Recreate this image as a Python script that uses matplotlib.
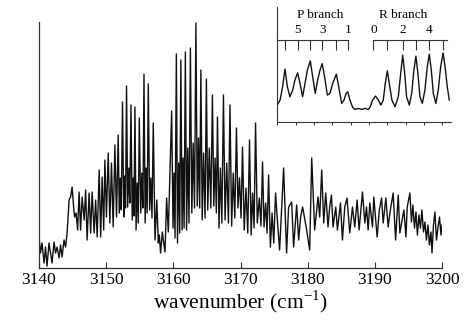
"""
IR spectrum of the CH stretch band with an inset of the band origin
(P and R branch assignments).
"""
import matplotlib
matplotlib.use("Agg")
import matplotlib.pyplot as plt

plt.rcParams["font.family"] = ["Liberation Serif", "DejaVu Serif"]

# --- main spectrum (wavenumber in cm-1, signal in arbitrary units) ---
wn_onset = [3140.00, 3140.22, 3140.45, 3140.75, 3140.97, 3141.19, 3141.49, 3141.72, 3141.94,
            3142.24, 3142.46, 3142.69, 3142.99, 3143.21, 3143.43, 3143.73, 3143.96, 3144.18]
sig_onset = [31, 15, 25, 5, 21, 2, 25, 15, 5,
             26, 15, 21, 10, 23, 11, 28, 21, 35]

wn_p = [3144.48, 3144.70, 3144.93, 3145.15, 3145.30, 3145.52, 3145.75, 3145.97, 3146.19, 3146.42,
        3146.72, 3146.94, 3147.16, 3147.46, 3147.69, 3147.91, 3148.21, 3148.43, 3148.66, 3148.96,
        3149.18, 3149.40, 3149.63, 3149.81, 3150.04, 3150.30, 3150.55, 3150.79, 3151.04, 3151.30,
        3151.54, 3151.79, 3151.95, 3152.10, 3152.25, 3152.43, 3152.62, 3152.75, 3152.88, 3153.03,
        3153.20, 3153.38, 3153.52, 3153.69, 3153.88, 3154.02, 3154.14, 3154.28, 3154.45, 3154.62,
        3154.78, 3154.93, 3155.15, 3155.32, 3155.47, 3155.63, 3155.80, 3155.95, 3156.10, 3156.27,
        3156.47, 3156.65, 3156.82, 3157.01, 3157.27]
sig_p = [68, 71, 81, 61, 51, 55, 38, 76, 38, 71,
         48, 78, 28, 75, 35, 76, 35, 68, 31, 98,
         31, 91, 38, 108, 51, 115, 45, 105, 41, 123,
         51, 133, 55, 90, 58, 166, 51, 92, 60, 182,
         61, 100, 65, 163, 48, 90, 52, 161, 38, 85,
         45, 150, 55, 95, 60, 194, 45, 100, 55, 184,
         58, 90, 50, 145, 28]

wn_gap = [3157.54, 3157.76, 3157.91, 3158.10, 3158.36, 3158.51, 3158.76, 3159.00, 3159.25]
sig_gap = [68, 25, 33, 15, 36, 28, 16, 70, 36]

wn_r = [3159.75, 3159.95, 3160.10, 3160.25, 3160.45, 3160.62, 3160.80, 3160.95, 3161.12, 3161.30,
        3161.45, 3161.60, 3161.79, 3161.97, 3162.15, 3162.33, 3162.54, 3162.75, 3162.95, 3163.15,
        3163.36, 3163.56, 3163.75, 3163.92, 3164.10, 3164.30, 3164.50, 3164.72, 3164.92, 3165.12,
        3165.35, 3165.58, 3165.82, 3166.02, 3166.22, 3166.40, 3166.57, 3166.80, 3167.00, 3167.22,
        3167.46, 3167.70, 3167.95, 3168.20, 3168.43, 3168.68, 3168.92, 3169.15, 3169.40, 3169.62,
        3169.85, 3170.08, 3170.30, 3170.55, 3170.82, 3171.08, 3171.34, 3171.58, 3171.80, 3172.02,
        3172.24, 3172.50, 3172.80, 3173.05, 3173.28, 3173.50, 3173.75, 3173.95, 3174.18, 3174.45,
        3174.70, 3174.95, 3175.22, 3175.52, 3175.82, 3176.42, 3176.86, 3177.16, 3177.61, 3177.91,
        3178.36, 3178.66, 3178.95, 3179.25, 3179.85]
sig_r = [157, 40, 95, 30, 214, 25, 105, 35, 208, 38,
         110, 40, 216, 38, 120, 45, 220, 55, 125, 60,
         245, 62, 130, 60, 198, 48, 115, 50, 189, 58,
         120, 60, 173, 62, 110, 55, 151, 40, 100, 45,
         173, 48, 105, 45, 163, 42, 95, 50, 140, 60,
         90, 50, 121, 38, 80, 35, 128, 33, 75, 40,
         145, 45, 70, 42, 106, 41, 65, 35, 93, 21,
         55, 25, 75, 45, 18, 100, 15, 61, 66, 21,
         63, 28, 51, 61, 38]

wn_tail = [3180.30, 3180.60, 3181.04, 3181.54, 3181.79, 3182.09, 3182.39, 3182.69, 3183.03, 3183.28,
           3183.54, 3183.78, 3184.18, 3184.43, 3184.88, 3185.18, 3185.52, 3185.86, 3186.27, 3186.67,
           3187.01, 3187.36, 3187.66, 3188.16, 3188.51, 3188.76, 3189.00, 3189.25, 3189.65, 3189.85,
           3190.34, 3190.67, 3191.00, 3191.24, 3191.64, 3191.98, 3192.24, 3192.73, 3193.09, 3193.48,
           3193.73, 3193.98, 3194.33, 3194.63, 3194.82, 3195.22, 3195.45, 3195.67, 3195.90, 3196.12,
           3196.34, 3196.57, 3196.79, 3197.01, 3197.24, 3197.46, 3197.68, 3197.91, 3198.13, 3198.36,
           3198.51, 3198.73, 3198.95, 3199.18, 3199.40, 3199.63, 3199.85, 3200.00]
sig_tail = [18, 110, 38, 71, 51, 98, 45, 75, 41, 61,
            73, 41, 61, 38, 65, 28, 61, 70, 35, 61,
            41, 68, 38, 76, 45, 61, 38, 65, 41, 71,
            31, 58, 70, 45, 70, 41, 55, 75, 28, 73,
            35, 45, 58, 31, 61, 75, 46, 63, 40, 56,
            33, 53, 40, 58, 36, 46, 28, 43, 23, 36,
            15, 43, 56, 28, 40, 51, 33, 43]

# --- inset: band origin region ---
inset_x = [0.00, 0.15, 0.29, 0.42, 0.55, 0.69, 0.84, 0.96, 1.11, 1.24,
           1.38, 1.51, 1.64, 1.80, 1.93, 2.07, 2.20, 2.33, 2.45, 2.58,
           2.73, 2.87, 3.02, 3.22, 3.35, 3.51, 3.64, 3.75, 3.84, 3.96,
           4.11, 4.24, 4.42, 4.60, 4.78, 4.96, 5.05, 5.20, 5.36, 5.51,
           5.65, 5.78, 5.89, 6.00, 6.11, 6.25, 6.42, 6.60, 6.73, 6.84,
           6.95, 7.05, 7.20, 7.33, 7.45, 7.56, 7.67, 7.78, 7.91, 8.05,
           8.18, 8.29, 8.40, 8.51, 8.65, 8.78, 8.91, 9.04, 9.15, 9.27, 9.38]
inset_y = [16.7, 21.7, 35, 52.7, 35, 25, 31.7, 41.7, 49, 38.3,
           25, 38.3, 51.7, 61, 45, 28.3, 41.7, 51.7, 58.3, 45,
           26.7, 28.3, 38.3, 47.7, 35, 18.3, 21.7, 28.3, 30, 21.7,
           14.3, 12.3, 13.3, 12.3, 13.3, 12.3, 14.3, 21.7, 25.7, 21.7,
           16.7, 21.7, 38.3, 51, 38.3, 21.7, 15, 25, 48.3, 66.7,
           48.3, 25, 16.7, 28.3, 51.7, 65.7, 48.3, 25, 18.3, 31.7,
           55, 67.7, 51.7, 28.3, 18.3, 31.7, 55, 69, 55, 35, 21.7]

# line positions P6..P1 and R0..R5, with the labelled members
p_lines = [0.42, 1.11, 1.80, 2.45, 3.22, 3.84]
r_lines = [5.24, 6.00, 6.84, 7.56, 8.29, 9.04]
p_labels = {1.11: "5", 2.45: "3", 3.84: "1"}
r_labels = {5.24: "0", 6.84: "2", 8.29: "4"}

wn = wn_onset + wn_p + wn_gap + wn_r + wn_tail
sig = sig_onset + sig_p + sig_gap + sig_r + sig_tail
assert len(wn) == len(sig)
assert len(inset_x) == len(inset_y)

fig = plt.figure(figsize=(4.74, 3.27), dpi=100)

ax = fig.add_axes([0.0823, 0.1804, 0.8502, 0.7523])
ax.plot(wn, sig, color="#111111", linewidth=1.0)
ax.set_xlim(3140, 3200)
ax.set_ylim(0, 246)
ax.set_xticks(range(3140, 3201, 10))
ax.set_yticks([])
for side in ("top", "right"):
    ax.spines[side].set_visible(False)
for side in ("left", "bottom"):
    ax.spines[side].set_color("#333333")
    ax.spines[side].set_linewidth(0.9)
ax.tick_params(axis="x", direction="in", length=4, width=0.8, color="#333333",
               labelsize=12.5, pad=3)
ax.set_xlabel("wavenumber (cm$^{\\mathregular{-1}}$)", fontsize=15.5, labelpad=0)

ins = fig.add_axes([0.585, 0.6278, 0.3675, 0.3508])
ins.plot(inset_x, inset_y, color="#111111", linewidth=1.0)
ins.set_xlim(0, 9.5)
ins.set_ylim(0, 115)
ins.set_xticks(range(0, 10))
ins.set_xticklabels([])
ins.set_yticks([])
for side in ("top", "right"):
    ins.spines[side].set_visible(False)
for side in ("left", "bottom"):
    ins.spines[side].set_color("#333333")
    ins.spines[side].set_linewidth(0.8)
ins.tick_params(axis="x", direction="out", length=2, width=0.7, color="#333333")

# branch rulers
ruler_y, tick_y = 81.7, 71.7
ins.plot([0, 3.87], [ruler_y, ruler_y], color="#333333", linewidth=0.8)
ins.plot([5.24, 9.24], [ruler_y, ruler_y], color="#333333", linewidth=0.8)
ins.vlines(p_lines + r_lines, tick_y, ruler_y, color="#333333", linewidth=0.8)
for pos, txt in {**p_labels, **r_labels}.items():
    ins.text(pos, 92, txt, ha="center", va="center", fontsize=9.5)
ins.text(2.33, 107, "P branch", ha="center", va="center", fontsize=9.5)
ins.text(6.87, 107, "R branch", ha="center", va="center", fontsize=9.5)

fig.savefig("out.png", dpi=100)
